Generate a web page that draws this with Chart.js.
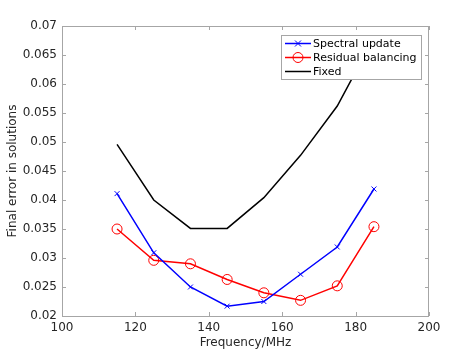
<!DOCTYPE html>
<html>
<head>
<meta charset="utf-8">
<script src="https://cdn.jsdelivr.net/npm/chart.js@4/dist/chart.umd.min.js"></script>
<style>
html,body{margin:0;padding:0;background:#fff;}
#wrap{width:474px;height:355px;}
</style>
</head>
<body>
<div id="wrap"><canvas id="c" width="474" height="355"></canvas></div>
<script>
const frequencies = [115, 125, 135, 145, 155, 165, 175, 185];
const spectralUpdate = [0.0411, 0.0309, 0.0250, 0.0217, 0.0225, 0.0272, 0.0319, 0.0419];
const residualBalancing = [0.0350, 0.0296, 0.0290, 0.0263, 0.0240, 0.0227, 0.0252, 0.0354];
const fixed = [0.0496, 0.0400, 0.0351, 0.0351, 0.0404, 0.0477, 0.0562, 0.0680];
const seriesLabels = ['Spectral update', 'Residual balancing', 'Fixed'];

const toPts = arr => arr.map((v, i) => ({x: frequencies[i], y: v}));
const FONT = 'DejaVu Sans';
const TXT = '#262626';
const FRAME = '#a6a6a6';

const insideTicks = {
  id: 'insideTicks',
  afterDraw(chart) {
    const {ctx, chartArea: a, scales: {x, y}} = chart;
    const L = 4;
    ctx.save();
    ctx.strokeStyle = FRAME;
    ctx.lineWidth = 1;
    ctx.beginPath();
    x.ticks.forEach(t => {
      const px = Math.round(x.getPixelForValue(t.value)) + 0.5;
      ctx.moveTo(px, a.bottom); ctx.lineTo(px, a.bottom - L);
      ctx.moveTo(px, a.top); ctx.lineTo(px, a.top + L);
    });
    y.ticks.forEach(t => {
      const py = Math.round(y.getPixelForValue(t.value)) + 0.5;
      ctx.moveTo(a.left, py); ctx.lineTo(a.left + L, py);
      ctx.moveTo(a.right, py); ctx.lineTo(a.right - L, py);
    });
    ctx.stroke();
    ctx.strokeRect(Math.round(a.left) + 0.5, Math.round(a.top) + 0.5, Math.round(a.right - a.left) - 1, Math.round(a.bottom - a.top));
    // legend
    const bx = a.left + 219, by = a.top + 9, bw = 140, bh = 44;
    ctx.fillStyle = '#fff';
    ctx.fillRect(bx, by, bw, bh);
    ctx.strokeStyle = '#a6a6a6';
    ctx.strokeRect(bx + 0.5, by + 0.5, bw, bh);
    chart.data.datasets.forEach((ds, i) => {
      const ly = by + 8.5 + i * 14;
      ctx.strokeStyle = ds.borderColor;
      ctx.lineWidth = 1.5;
      ctx.beginPath();
      ctx.moveTo(bx + 4, ly); ctx.lineTo(bx + 30, ly);
      ctx.stroke();
      const cx = bx + 17;
      if (ds.pointStyle === 'crossRot') {
        ctx.lineWidth = 1;
        ctx.beginPath();
        ctx.moveTo(cx - 3, ly - 3); ctx.lineTo(cx + 3, ly + 3);
        ctx.moveTo(cx - 3, ly + 3); ctx.lineTo(cx + 3, ly - 3);
        ctx.stroke();
      } else if (ds.pointStyle === 'circle' && ds.pointRadius > 0) {
        ctx.lineWidth = 1;
        ctx.beginPath();
        ctx.arc(cx, ly, 5, 0, Math.PI * 2);
        ctx.stroke();
      }
      ctx.fillStyle = '#000';
      ctx.font = '11px "' + FONT + '"';
      ctx.textBaseline = 'middle';
      ctx.textAlign = 'left';
      ctx.fillText(ds.label, bx + 32, ly + 0.5);
    });
    ctx.restore();
  }
};

new Chart(document.getElementById('c'), {
  type: 'line',
  data: {
    datasets: [
      {label: seriesLabels[0], data: toPts(spectralUpdate), borderColor: '#0000ff', backgroundColor: 'transparent',
       borderWidth: 1.5, pointStyle: 'crossRot', pointRadius: 3.5, pointBorderWidth: 1, pointBorderColor: '#0000ff', tension: 0},
      {label: seriesLabels[1], data: toPts(residualBalancing), borderColor: '#ff0000', backgroundColor: 'transparent',
       borderWidth: 1.5, pointStyle: 'circle', pointRadius: 5, pointBorderWidth: 1, pointBorderColor: '#ff0000', pointBackgroundColor: 'transparent', tension: 0},
      {label: seriesLabels[2], data: toPts(fixed), borderColor: '#000000', backgroundColor: 'transparent',
       borderWidth: 1.5, pointRadius: 0, pointStyle: false, tension: 0}
    ]
  },
  options: {
    responsive: false,
    animation: false,
    devicePixelRatio: 1,
    layout: {padding: {top: 26, right: 45, left: 0, bottom: 0}},
    plugins: {legend: {display: false}, tooltip: {enabled: false}},
    scales: {
      x: {
        type: 'linear', min: 100, max: 200,
        ticks: {stepSize: 20, color: TXT, font: {family: FONT, size: 12}, padding: 5, maxRotation: 0},
        grid: {display: false, drawTicks: false},
        border: {display: false},
        title: {display: true, text: 'Frequency/MHz', color: TXT, font: {family: FONT, size: 12}, padding: {top: 0, bottom: 5}},
        afterFit: s => { s.height = 39; }
      },
      y: {
        type: 'linear', min: 0.02, max: 0.07,
        ticks: {stepSize: 0.005, color: TXT, font: {family: FONT, size: 12}, padding: 5,
                callback: v => parseFloat(v.toFixed(3)).toString()},
        grid: {display: false, drawTicks: false},
        border: {display: false},
        title: {display: true, text: 'Final error in solutions', color: TXT, font: {family: FONT, size: 12}, padding: {top: 6, bottom: 0}},
        afterFit: s => { s.width = 62; }
      }
    }
  },
  plugins: [insideTicks]
});
</script>
</body>
</html>
